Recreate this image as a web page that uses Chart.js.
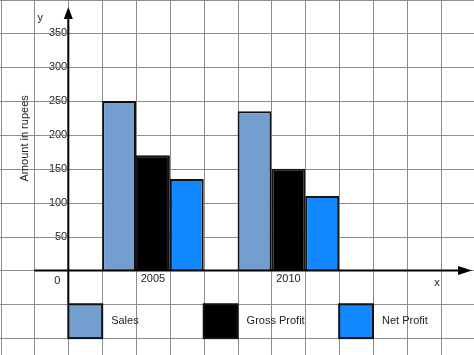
<!DOCTYPE html>
<html>
<head>
<meta charset="utf-8">
<script src="https://cdn.jsdelivr.net/npm/chart.js@4"></script>
<style>
  html, body { margin: 0; padding: 0; background: #fff; }
  #wrap { width: 474px; height: 355px; position: relative; }
</style>
</head>
<body>
<div id="wrap"><canvas id="chart"></canvas></div>
<script>
const years = ['2005', '2010'];
const seriesNames = ['Sales', 'Gross Profit', 'Net Profit'];
const sales = [250, 235];
const grossProfit = [170, 150];
const netProfit = [135, 110];
const yTicks = [0, 50, 100, 150, 200, 250, 300, 350];
const colors = ['#729fcf', '#000000', '#1188ff'];

const FONT = '"Liberation Sans", Arial, sans-serif';

// background grid, axes with arrows, custom legend and labels
const paperPlugin = {
    id: 'paper',
    beforeDatasetsDraw(chart) {
        const { ctx, scales: { x, y }, width, height } = chart;
        const cell = y.getPixelForValue(0) - y.getPixelForValue(50);
        const originY = y.getPixelForValue(0);
        const originX = x.getPixelForValue(0) - 2.5 * cell;

        ctx.save();
        ctx.strokeStyle = '#8c8c8c';
        ctx.lineWidth = 1;
        ctx.beginPath();
        for (let gx = originX - Math.ceil(originX / cell) * cell; gx <= width; gx += cell) {
            ctx.moveTo(Math.round(gx) + 0.5, 0);
            ctx.lineTo(Math.round(gx) + 0.5, height);
        }
        for (let gy = originY - Math.ceil(originY / cell) * cell; gy <= height; gy += cell) {
            ctx.moveTo(0, Math.round(gy) + 0.5);
            ctx.lineTo(width, Math.round(gy) + 0.5);
        }
        ctx.stroke();
        ctx.restore();
    },
    afterDatasetsDraw(chart) {
        const { ctx, scales: { x, y }, width } = chart;
        const cell = y.getPixelForValue(0) - y.getPixelForValue(50);
        const originY = y.getPixelForValue(0);
        const originX = x.getPixelForValue(0) - 2.5 * cell;

        ctx.save();
        ctx.strokeStyle = '#000';
        ctx.fillStyle = '#000';
        ctx.lineWidth = 2;
        // x axis
        ctx.beginPath();
        ctx.moveTo(originX - cell, originY);
        ctx.lineTo(width - 12, originY);
        ctx.stroke();
        ctx.beginPath();
        ctx.moveTo(width - 2, originY);
        ctx.lineTo(width - 16, originY - 4.5);
        ctx.lineTo(width - 16, originY + 4.5);
        ctx.closePath();
        ctx.fill();
        // y axis
        ctx.beginPath();
        ctx.moveTo(originX, originY + cell);
        ctx.lineTo(originX, 16);
        ctx.stroke();
        ctx.beginPath();
        ctx.moveTo(originX, 7);
        ctx.lineTo(originX - 4.5, 19);
        ctx.lineTo(originX + 4.5, 19);
        ctx.closePath();
        ctx.fill();

        ctx.fillStyle = '#222';
        ctx.font = '11px ' + FONT;
        ctx.textAlign = 'center';
        ctx.textBaseline = 'middle';
        ctx.fillText('y', originX - 28, 18);
        ctx.fillText('x', width - 37, originY + 13);
        ctx.fillText('0', originX - 11, originY + 11);

        ctx.save();
        ctx.translate(originX - 43, originY - 3.9 * cell);
        ctx.rotate(-Math.PI / 2);
        ctx.fillText('Amount in rupees', 0, 0);
        ctx.restore();

        // legend: one box per series, spaced 4 cells apart
        const legendTop = originY + cell;
        chart.data.datasets.forEach((ds, i) => {
            const bx = originX + i * 4 * cell;
            ctx.fillStyle = ds.backgroundColor;
            ctx.fillRect(bx, legendTop, cell, cell);
            ctx.lineWidth = 2;
            ctx.strokeStyle = '#111';
            ctx.strokeRect(bx, legendTop, cell, cell);
            ctx.fillStyle = '#222';
            ctx.textAlign = 'left';
            ctx.fillText(ds.label, bx + cell + 9, legendTop + cell / 2);
        });
        ctx.restore();
    }
};

new Chart(document.getElementById('chart'), {
    type: 'bar',
    data: {
        labels: years,
        datasets: [
            { label: seriesNames[0], data: sales, backgroundColor: colors[0] },
            { label: seriesNames[1], data: grossProfit, backgroundColor: colors[1] },
            { label: seriesNames[2], data: netProfit, backgroundColor: colors[2] }
        ].map(ds => Object.assign(ds, {
            borderColor: '#111',
            borderWidth: 2,
            categoryPercentage: 0.75,
            barPercentage: 1
        }))
    },
    options: {
        responsive: true,
        maintainAspectRatio: false,
        animation: false,
        layout: {
            padding: { left: 0, right: 117.9, top: 33.4, bottom: 64.6 }
        },
        plugins: {
            legend: { display: false },
            tooltip: { enabled: false }
        },
        scales: {
            x: {
                grid: { display: false, drawTicks: false },
                border: { display: false },
                ticks: { color: '#222', font: { size: 11, family: FONT }, padding: 2 },
                afterFit: scale => { scale.height = 20; }
            },
            y: {
                min: 0,
                max: 350,
                afterBuildTicks: scale => { scale.ticks = yTicks.map(v => ({ value: v })); },
                grid: { display: false, drawTicks: false },
                border: { display: false },
                ticks: {
                    color: '#222',
                    font: { size: 11, family: FONT },
                    padding: 18,
                    callback: v => (v === 0 ? '' : v)
                },
                afterFit: scale => { scale.width = 85.23; }
            }
        }
    },
    plugins: [paperPlugin]
});
</script>
</body>
</html>
